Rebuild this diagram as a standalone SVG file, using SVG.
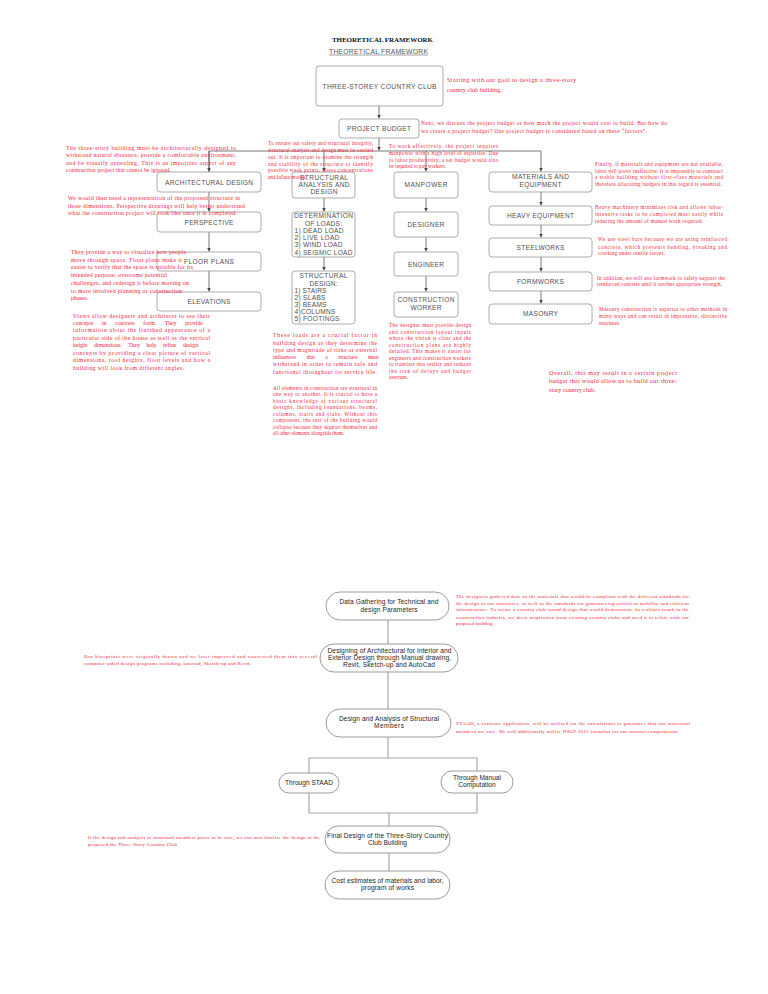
<svg xmlns="http://www.w3.org/2000/svg" width="768" height="994" viewBox="0 0 768 994">
<style>
.box{fill:#fff;stroke:#a3a3a3;stroke-width:0.9}
.pill{fill:#fff;stroke:#9c9c9c;stroke-width:1}
.bt{font-family:"Liberation Sans",Arial,sans-serif;font-size:6.6px;fill:#505050;text-anchor:middle}
.btl{font-family:"Liberation Sans",Arial,sans-serif;font-size:6.6px;fill:#505050}
.pt{font-family:"Liberation Sans",Arial,sans-serif;font-size:6.6px;fill:#262626;text-anchor:middle}
.r{font-family:"Liberation Serif","Times New Roman",serif;fill:#f2223a}
.conn{stroke:#555;stroke-width:0.8;fill:none}
.conn2{stroke:#a8a8a8;stroke-width:1.2;fill:none}
.t1{font-family:"Liberation Serif",serif;font-weight:bold;font-size:7px;fill:#111;text-anchor:middle}
.t2{font-family:"Liberation Sans",Arial,sans-serif;font-size:6.8px;fill:#555;text-anchor:middle}
</style>
<defs>
<marker id="ah" markerUnits="userSpaceOnUse" markerWidth="5" markerHeight="5" refX="4" refY="2" orient="auto">
<path d="M0,0 L4,2 L0,4 z" fill="#444"/>
</marker>
</defs>
<rect width="768" height="994" fill="#fff"/>

<g id="title">
<text class="t1" x="382.5" y="42" textLength="101">THEORETICAL FRAMEWORK</text>
<text class="t2" x="378.5" y="53.5" textLength="99">THEORETICAL FRAMEWORK</text>
<line x1="329" y1="55" x2="428" y2="55" stroke="#666" stroke-width="0.6"/>
</g>

<g id="connectors">
<line class="conn" x1="379" y1="106" x2="379" y2="118.5" marker-end="url(#ah)"/>
<line class="conn" x1="379" y1="138" x2="379" y2="150.5" marker-end="url(#ah)"/>
<polyline class="conn" points="209,172 209,151 541,151"/>
<line class="conn" x1="209" y1="151" x2="209" y2="171.5" marker-end="url(#ah)"/>
<line class="conn" x1="324" y1="151" x2="324" y2="171.5" marker-end="url(#ah)"/>
<line class="conn" x1="426" y1="151" x2="426" y2="171.5" marker-end="url(#ah)"/>
<line class="conn" x1="541" y1="151" x2="541" y2="171.5" marker-end="url(#ah)"/>
<line class="conn" x1="209" y1="192" x2="209" y2="211.5" marker-end="url(#ah)"/>
<line class="conn" x1="209" y1="232" x2="209" y2="251.5" marker-end="url(#ah)"/>
<line class="conn" x1="209" y1="271" x2="209" y2="291.5" marker-end="url(#ah)"/>
<line class="conn" x1="324" y1="198" x2="324" y2="211.5" marker-end="url(#ah)"/>
<line class="conn" x1="324" y1="257" x2="324" y2="270.5" marker-end="url(#ah)"/>
<line class="conn" x1="426" y1="198" x2="426" y2="211.5" marker-end="url(#ah)"/>
<line class="conn" x1="426" y1="237" x2="426" y2="251.5" marker-end="url(#ah)"/>
<line class="conn" x1="426" y1="276" x2="426" y2="291.5" marker-end="url(#ah)"/>
<line class="conn" x1="541" y1="192" x2="541" y2="205.5" marker-end="url(#ah)"/>
<line class="conn" x1="541" y1="225" x2="541" y2="237.5" marker-end="url(#ah)"/>
<line class="conn" x1="541" y1="257" x2="541" y2="271.5" marker-end="url(#ah)"/>
<line class="conn" x1="541" y1="291" x2="541" y2="303.5" marker-end="url(#ah)"/>
<line class="conn2" x1="388" y1="620" x2="388" y2="644"/>
<line class="conn2" x1="388" y1="672" x2="388" y2="709"/>
<polyline class="conn2" points="388,737 388,758"/>
<polyline class="conn2" points="309,773 309,758 477,758 477,771"/>
<polyline class="conn2" points="309,793 309,813 477,813 477,793"/>
<line class="conn2" x1="389" y1="813" x2="389" y2="826"/>
<line class="conn2" x1="389" y1="853" x2="389" y2="871"/>
</g>

<g id="club"><rect class="box" x="316" y="66" width="127" height="40" rx="3"/><text class="bt" x="379.5" y="88.5" textLength="114">THREE-STOREY COUNTRY CLUB</text></g>
<g id="budget"><rect class="box" x="339" y="119" width="80" height="19" rx="3"/><text class="bt" x="379" y="131" textLength="64">PROJECT BUDGET</text></g>
<g id="arch"><rect class="box" x="157" y="172" width="104" height="20" rx="3"/><text class="bt" x="209" y="184.5" textLength="88">ARCHITECTURAL DESIGN</text></g>
<g id="perspective"><rect class="box" x="157" y="212" width="104" height="20" rx="3"/><text class="bt" x="209" y="224.5" textLength="49">PERSPECTIVE</text></g>
<g id="floorplans"><rect class="box" x="157" y="252" width="104" height="19" rx="3"/><text class="bt" x="209" y="263.5" textLength="50">FLOOR PLANS</text></g>
<g id="elevations"><rect class="box" x="157" y="292" width="104" height="19" rx="3"/><text class="bt" x="209" y="303.5" textLength="43">ELEVATIONS</text></g>
<g id="structural"><rect class="box" x="292" y="172" width="63" height="26" rx="3"/>
<text class="bt" x="324" y="179.5" textLength="48">STRUCTURAL</text>
<text class="bt" x="324" y="186.8" textLength="51">ANALYSIS AND</text>
<text class="bt" x="324" y="194.2" textLength="27">DESIGN</text></g>
<g id="loads"><rect class="box" x="292" y="212" width="63" height="45" rx="3"/>
<text class="bt" x="323.5" y="218.4" textLength="59">DETERMINATION</text>
<text class="bt" x="323.5" y="225.7" textLength="37">OF LOADS:</text>
<text class="btl" x="294.5" y="233" textLength="49">1) DEAD LOAD</text>
<text class="btl" x="294.5" y="240.2" textLength="45">2) LIVE LOAD</text>
<text class="btl" x="294.5" y="247.4" textLength="48">3) WIND LOAD</text>
<text class="btl" x="294.5" y="254.6" textLength="58">4) SEISMIC LOAD</text></g>
<g id="sdesign"><rect class="box" x="292" y="271" width="63" height="53" rx="3"/>
<text class="bt" x="323.5" y="278.3" textLength="48">STRUCTURAL</text>
<text class="bt" x="323.5" y="285.6" textLength="28">DESIGN:</text>
<text class="btl" x="294.5" y="292.6" textLength="32">1) STAIRS</text>
<text class="btl" x="294.5" y="300" textLength="31">2) SLABS</text>
<text class="btl" x="294.5" y="307" textLength="32">3) BEAMS</text>
<text class="btl" x="294.5" y="314" textLength="41">4)COLUMNS</text>
<text class="btl" x="294.5" y="321.3" textLength="45">5) FOOTINGS</text></g>
<g id="manpower"><rect class="box" x="394" y="172" width="64" height="26" rx="3"/><text class="bt" x="426" y="186.8" textLength="43">MANPOWER</text></g>
<g id="designer"><rect class="box" x="394" y="212" width="64" height="25" rx="3"/><text class="bt" x="426" y="226.8" textLength="37">DESIGNER</text></g>
<g id="engineer"><rect class="box" x="394" y="252" width="64" height="24" rx="3"/><text class="bt" x="426" y="266.5" textLength="36">ENGINEER</text></g>
<g id="worker"><rect class="box" x="394" y="292" width="64" height="25" rx="3"/>
<text class="bt" x="426" y="302.3" textLength="57">CONSTRUCTION</text>
<text class="bt" x="426" y="309.6" textLength="31">WORKER</text></g>
<g id="materials"><rect class="box" x="489" y="172" width="103" height="20" rx="3"/>
<text class="bt" x="540.5" y="179.3" textLength="57">MATERIALS AND</text>
<text class="bt" x="540.5" y="186.6" textLength="42">EQUIPMENT</text></g>
<g id="heavy"><rect class="box" x="489" y="206" width="103" height="19" rx="3"/><text class="bt" x="540.5" y="217.8" textLength="67">HEAVY EQUIPMENT</text></g>
<g id="steel"><rect class="box" x="489" y="238" width="103" height="19" rx="3"/><text class="bt" x="540.5" y="249.6" textLength="48">STEELWORKS</text></g>
<g id="formworks"><rect class="box" x="489" y="272" width="103" height="19" rx="3"/><text class="bt" x="540.5" y="283.8" textLength="47">FORMWORKS</text></g>
<g id="masonry"><rect class="box" x="489" y="304" width="103" height="20" rx="3"/><text class="bt" x="540.5" y="316.3" textLength="35">MASONRY</text></g>

<g id="datagathering"><rect class="pill" x="326" y="592" width="123" height="28" rx="14"/>
<text class="pt" x="389" y="604.3" textLength="99">Data Gathering for Technical and</text>
<text class="pt" x="389" y="611.6" textLength="57">design Parameters</text></g>
<g id="designing"><rect class="pill" x="320" y="644" width="138" height="28" rx="14"/>
<text class="pt" x="389.5" y="653" textLength="124">Designing of Architectural for Interior and</text>
<text class="pt" x="389.5" y="660" textLength="123">Exterior Design through Manual drawing,</text>
<text class="pt" x="389" y="667.3" textLength="92">Revit, Sketch-up and AutoCad</text></g>
<g id="analysis"><rect class="pill" x="326" y="709" width="125" height="28" rx="14"/>
<text class="pt" x="389" y="720.6" textLength="100">Design and Analysis of Structural</text>
<text class="pt" x="389" y="728.3" textLength="30">Members</text></g>
<g id="staad"><rect class="pill" x="279" y="773" width="60" height="20" rx="10"/>
<text class="pt" x="309" y="785.3">Through STAAD</text></g>
<g id="manual"><rect class="pill" x="441" y="771" width="72" height="22" rx="11"/>
<text class="pt" x="477" y="779.6">Through Manual</text>
<text class="pt" x="477" y="787">Computation</text></g>
<g id="finaldesign"><rect class="pill" x="325" y="826" width="125" height="27" rx="13.5"/>
<text class="pt" x="387.5" y="838.3" textLength="121">Final Design of the Three-Story Country</text>
<text class="pt" x="387.5" y="845.3" textLength="39">Club Building</text></g>
<g id="cost"><rect class="pill" x="325" y="871" width="125" height="28" rx="14"/>
<text class="pt" x="387.5" y="883.3" textLength="112">Cost estimates of materials and labor,</text>
<text class="pt" x="387.5" y="890.3" textLength="53">program of works</text></g>

<g id="annotations" class="r">
<g id="n-start" font-size="6.2">
<text x="447" y="82" textLength="129">Starting with our goal to design a three-story</text>
<text x="447" y="92">country club building.</text></g>
<g id="n-budget" font-size="5.6">
<text x="421" y="125" textLength="246">Next, we discuss the project budget or how much the project would cost to build. But how do</text>
<text x="421" y="133" textLength="226">we create a project budget? Our project budget is considered based on these “factors”.</text></g>
<g id="n-arch" font-size="5.8">
<text x="66" y="149.7" textLength="170">The three-story building must be architecturally designed to</text>
<text x="66" y="157" textLength="170">withstand natural disasters, provide a comfortable environment,</text>
<text x="66" y="164.7" textLength="170">and be visually appealing. This is an important aspect of any</text>
<text x="66" y="171.5" textLength="105">construction project that cannot be ignored.</text></g>
<g id="n-persp" font-size="5.8">
<text x="68" y="199.7" textLength="172">We would then need a representation of the proposed structure in</text>
<text x="68" y="207.7" textLength="177">three dimensions. Perspective drawings will help better understand</text>
<text x="68" y="214.7" textLength="169">what the construction project will look like once it is completed.</text></g>
<g id="n-floor" font-size="5.9">
<text x="71" y="254" textLength="115">They provide a way to visualize how people</text>
<text x="71" y="261.5" textLength="111">move through space. Floor plans make it</text>
<text x="71" y="269.3" textLength="122">easier to verify that the space is suitable for its</text>
<text x="71" y="277" textLength="96">intended purpose, overcome potential</text>
<text x="71" y="284.7" textLength="118">challenges, and redesign it before moving on</text>
<text x="71" y="292.5" textLength="111">to more involved planning or construction</text>
<text x="71" y="300.3">phases.</text></g>
<g id="n-views" font-size="5.8">
<text x="73" y="318" textLength="137">Views allow designers and architects to see their</text>
<text x="73" y="325.4" word-spacing="7.2">concepts in concrete form. They provide</text>
<text x="73" y="332.4" textLength="137">information about the finished appearance of a</text>
<text x="73" y="339.5" textLength="137">particular side of the house as well as the vertical</text>
<text x="73" y="347" word-spacing="5">height dimensions. They help refine design</text>
<text x="73" y="354.7" textLength="137">concepts by providing a clear picture of vertical</text>
<text x="73" y="362" textLength="137">dimensions, roof heights, floor levels and how a</text>
<text x="73" y="369.5" textLength="111">building will look from different angles.</text></g>
<g id="n-struct" font-size="5.2">
<text x="268" y="145" textLength="105">To ensure our safety and structural integrity,</text>
<text x="268" y="152" textLength="105">structural analysis and design must be carried</text>
<text x="268" y="159" textLength="105">out. It is important to examine the strength</text>
<text x="268" y="165.5" textLength="105">and stability of the structure to identify</text>
<text x="268" y="172.3" textLength="105">possible weak points, stress concentrations</text>
<text x="268" y="178.6">and failure modes.</text></g>
<g id="n-manpower" font-size="5.2">
<text x="389" y="148" textLength="109">To work effectively, the project requires</text>
<text x="389" y="155" textLength="109">manpower with a high level of expertise. Due</text>
<text x="389" y="161.5" textLength="109">to labor productivity, a set budget would also</text>
<text x="389" y="168">be required to pay workers.</text></g>
<g id="n-loads" font-size="5.6">
<text x="273" y="337" textLength="104">These loads are a crucial factor in</text>
<text x="273" y="344.7" textLength="104">building design as they determine the</text>
<text x="273" y="351.7" textLength="104">type and magnitude of risks or external</text>
<text x="273" y="359" word-spacing="9">influences that a structure must</text>
<text x="273" y="366.3" textLength="104">withstand in order to remain safe and</text>
<text x="273" y="373.7" textLength="104">functional throughout its service life.</text></g>
<g id="n-elements" font-size="5.2">
<text x="273" y="389.7" textLength="104">All elements in construction are structural in</text>
<text x="273" y="396.2" textLength="104">one way or another. It is crucial to have a</text>
<text x="273" y="402.7" textLength="104">basic knowledge of various structural</text>
<text x="273" y="409.2" textLength="104">designs, including foundations, beams,</text>
<text x="273" y="415.7" textLength="104">columns, stairs and slabs. Without this</text>
<text x="273" y="422.2" textLength="104">component, the rest of the building would</text>
<text x="273" y="428.7" textLength="104">collapse because they support themselves and</text>
<text x="273" y="435.2">all other elements alongside them.</text></g>
<g id="n-designer" font-size="5.1">
<text x="389" y="327" textLength="82">The designer must provide design</text>
<text x="389" y="333.5" textLength="82">and construction layout inputs</text>
<text x="389" y="340" textLength="82">where the vision is clear and the</text>
<text x="389" y="346.5" textLength="82">construction plans are highly</text>
<text x="389" y="353" textLength="82">detailed. This makes it easier for</text>
<text x="389" y="359.5" textLength="82">engineers and construction workers</text>
<text x="389" y="366" textLength="82">to translate into reality and reduces</text>
<text x="389" y="372.5" textLength="82">the risk of delays and budget</text>
<text x="389" y="379">overruns.</text></g>
<g id="n-materials" font-size="5.1">
<text x="595" y="165.8" textLength="128">Finally, if materials and equipment are not available,</text>
<text x="595" y="172.5" textLength="128">labor will prove ineffective. It is impossible to construct</text>
<text x="595" y="179" textLength="128">a stable building without first-class materials and</text>
<text x="595" y="185.8" textLength="127">therefore allocating budgets in this regard is essential.</text></g>
<g id="n-heavy" font-size="5.1">
<text x="595" y="209" textLength="128">Heavy machinery minimizes risk and allows labor-</text>
<text x="595" y="216" textLength="128">intensive tasks to be completed most easily while</text>
<text x="595" y="222.8" textLength="108">reducing the amount of manual work required.</text></g>
<g id="n-steel" font-size="5.1">
<text x="598" y="241" textLength="129">We use steel bars because we are using reinforced</text>
<text x="598" y="248.5" textLength="129">concrete, which prevents bending, breaking and</text>
<text x="598" y="255" textLength="67">cracking under tensile forces.</text></g>
<g id="n-form" font-size="5.1">
<text x="597" y="280" textLength="128">In addition, we will use formwork to safely support the</text>
<text x="597" y="286" textLength="125">reinforced concrete until it reaches appropriate strength.</text></g>
<g id="n-masonry" font-size="5.1">
<text x="599" y="311" textLength="128">Masonry construction is superior to other methods in</text>
<text x="599" y="318" textLength="128">many ways and can result in impressive, distinctive</text>
<text x="599" y="324.5">structures.</text></g>
<g id="n-overall" font-size="6.2">
<text x="549" y="374.5" textLength="128">Overall, this may result in a certain project</text>
<text x="549" y="383" textLength="128">budget that would allow us to build our three-</text>
<text x="549" y="391.5">story country club.</text></g>
<g id="n-data" font-size="5">
<text x="456" y="597.5" textLength="233">The designers gathered data on the materials that would be compliant with the different standards for</text>
<text x="456" y="604.5" textLength="233">the design of our structures, as well as the standards for guaranteeing sufficient mobility and efficient</text>
<text x="456" y="611.2" textLength="233">infrastructure. To create a country club sound design that would demonstrate its realistic touch in the</text>
<text x="456" y="618.5" textLength="233">construction industry, we drew inspiration from existing country clubs and used it to relate with our</text>
<text x="456" y="625.2">proposed building.</text></g>
<g id="n-blueprints" font-size="5">
<text x="84" y="657.7" textLength="233">Our blueprints were originally drawn and we later improved and converted them into several</text>
<text x="84" y="665" textLength="167">computer-aided design programs including Autocad, Sketch-up and Revit.</text></g>
<g id="n-staad" font-size="5">
<text x="456" y="725" textLength="234">STAAD, a software application, will be utilized for the calculations to guarantee that our structural</text>
<text x="456" y="732.5" textLength="223">members are safe. We will additionally utilize NSCP 2015 formulas for our manual computations.</text></g>
<g id="n-final" font-size="5">
<text x="88" y="838.5" textLength="232">If the design and analysis of structural members prove to be safe, we can now finalize the design of the</text>
<text x="88" y="845.8" textLength="89">proposed the Three-Story Country Club</text></g>
</g>
</svg>
